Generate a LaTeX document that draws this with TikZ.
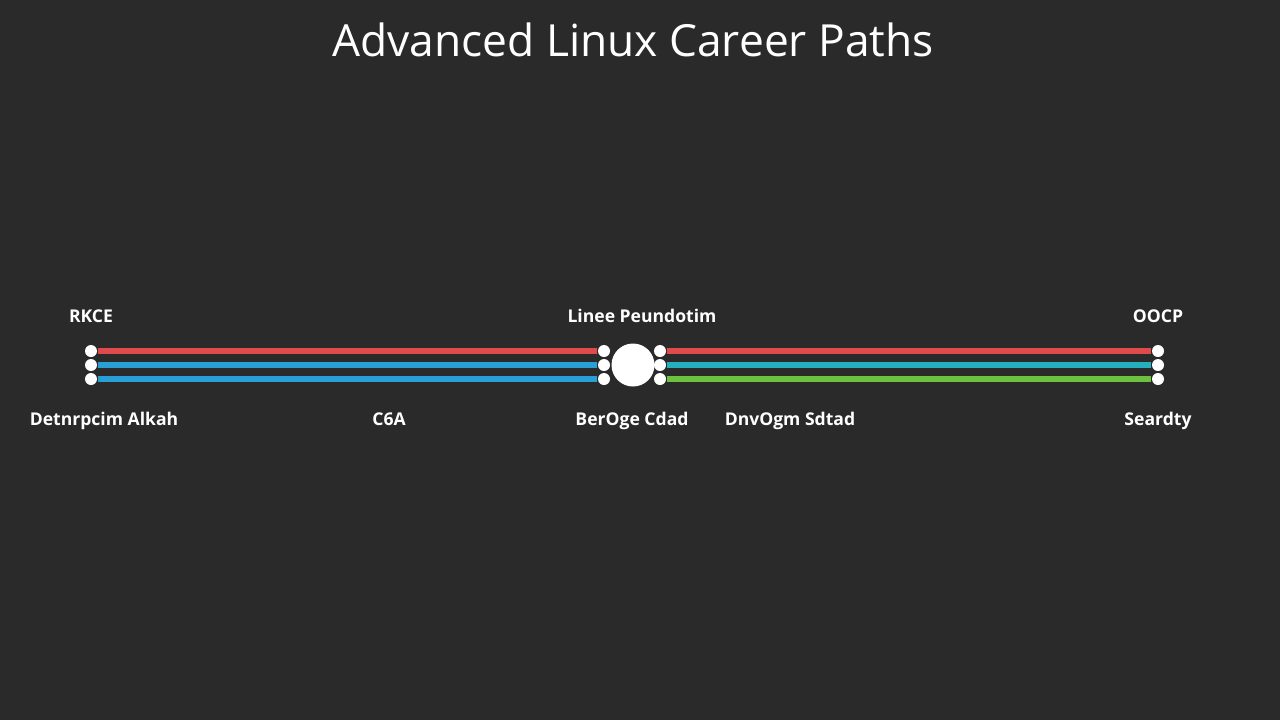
\documentclass[tikz,border=0pt]{standalone}
\usepackage{fontspec}
\setmainfont{Open Sans}
\definecolor{fondo}{HTML}{2A2A2A}
\definecolor{rojo}{HTML}{E04A4A}
\definecolor{azul}{HTML}{2A9FD6}
\definecolor{turq}{HTML}{25B0BE}
\definecolor{verde}{HTML}{6CC23E}
\tikzset{
  punto/.style={circle,fill=white,inner sep=0pt,minimum size=1.2mm},
  linea/.style={line width=0.55mm},
  etiq/.style={text=white,anchor=base,inner sep=0pt,font=\fontsize{5.0}{6}\selectfont\bfseries}
}
\begin{document}
\begin{tikzpicture}[x=0.1mm,y=-0.1mm]
	%fondo
	\fill[fondo] (0,0) rectangle (1280,720);
	\useasboundingbox (0,0) rectangle (1280,720);
	%titulo
	\node[text=white,font=\fontsize{12.6}{14}\selectfont] at (633,40) (titulo) {Advanced Linux Career Paths};
	%%%% PUNTOS IZQUIERDA
	\node[punto] at (91,351) (i1) {};
	\node[punto] at (91,365) (i2) {};
	\node[punto] at (91,379) (i3) {};
	\node[punto] at (604,351) (ci1) {};
	\node[punto] at (604,365) (ci2) {};
	\node[punto] at (604,379) (ci3) {};
	%%%% PUNTOS DERECHA
	\node[punto] at (660,351) (cd1) {};
	\node[punto] at (660,365) (cd2) {};
	\node[punto] at (660,379) (cd3) {};
	\node[punto] at (1158,351) (d1) {};
	\node[punto] at (1158,365) (d2) {};
	\node[punto] at (1158,379) (d3) {};
	%centro
	\node[circle,fill=white,inner sep=0pt,minimum size=4.3mm] at (633,365) (centro) {};
	%lineas
	\draw[linea,rojo] (i1) -- (ci1);
	\draw[linea,azul] (i2) -- (ci2);
	\draw[linea,azul] (i3) -- (ci3);
	\draw[linea,rojo] (cd1) -- (d1);
	\draw[linea,turq] (cd2) -- (d2);
	\draw[linea,verde] (cd3) -- (d3);
	%%%ETIQUETAS
	\node[etiq] at (91,322) (rkce) {RKCE};
	\node[etiq] at (642,322) (fund) {Linee Peundotim};
	\node[etiq] at (1158,322) (oocp) {OOCP};
	\node[etiq] at (104,425) (devops) {Detnrpcim Alkah};
	\node[etiq] at (389,425) (cga) {C6A};
	\node[etiq] at (632,425) (berge) {BerOge Cdad};
	\node[etiq] at (790,425) (dnv) {DnvOgm Sdtad};
	\node[etiq] at (1158,425) (seg) {Seardty};
\end{tikzpicture}
\end{document}
